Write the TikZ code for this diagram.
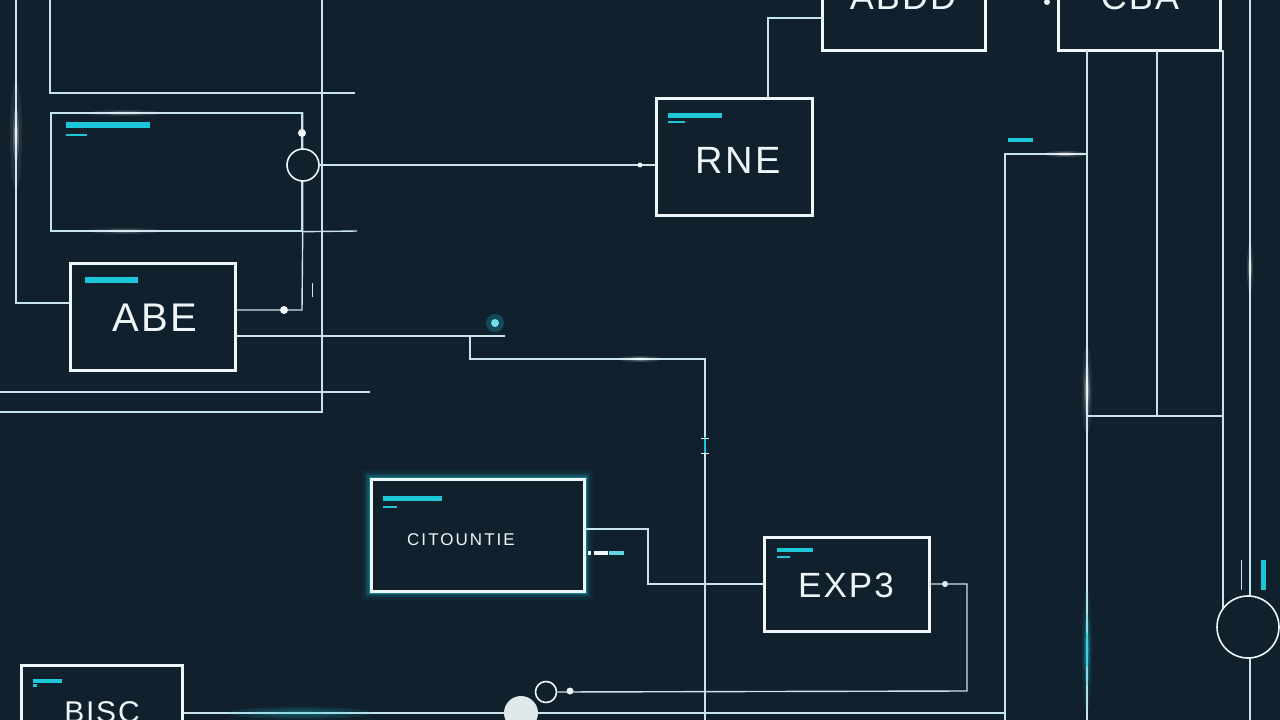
\documentclass[tikz,border=0pt]{standalone}
\usepackage{fontspec}
\setmainfont{Liberation Sans}
\newfontfamily\wide[LetterSpace=6]{Liberation Sans}
\newfontfamily\wider[LetterSpace=12]{Liberation Sans}
\definecolor{bg}{HTML}{11202D}
\definecolor{ln}{HTML}{C8E4EC}
\definecolor{bx}{HTML}{EEF6F8}
\definecolor{cy}{HTML}{1CC8D8}
\begin{document}
\begin{tikzpicture}[x=1pt,y=-1pt,
  wire/.style={draw=ln,line width=1.4pt},
  panelbox/.style={draw=bx,line width=3pt,fill=bg,inner sep=0pt,rectangle},
  lbl/.style={text=bx,inner sep=0pt},
  dotn/.style={circle,fill=bx,inner sep=0pt,minimum size=7pt},
  ring/.style={circle,draw=bx,line width=1.6pt,fill=bg,inner sep=0pt}]
\useasboundingbox (0,0) rectangle (1280,720);
\fill[bg] (0,0) rectangle (1280,720);
\begin{scope}
\clip (0,0) rectangle (1280,720);
% ---- nodes ----
\node[draw=ln,line width=1.4pt,minimum width=251pt,minimum height=118pt,inner sep=0pt] (panel) at (176.5,172) {};
\node[panelbox,minimum width=165pt,minimum height=107pt] (abe) at (152.5,316.5) {};
\node[panelbox,minimum width=156pt,minimum height=117pt] (rne) at (734,156.5) {};
\node[panelbox,minimum width=163pt,minimum height=120pt] (abdd) at (903.5,-10) {};
\node[panelbox,minimum width=162pt,minimum height=120pt] (cba) at (1139,-10) {};
\node[panelbox,minimum width=165pt,minimum height=94pt] (exp) at (846.5,584) {};
\node[panelbox,minimum width=161pt,minimum height=125pt] (disc) at (101.5,727.5) {};
% glowing box
\foreach \w/\o in {18/0.06,12/0.1,8/0.18,5/0.35}
  \draw[cy,line width=\w pt,opacity=\o] (371,479) rectangle (584,591);
\node[panelbox,minimum width=213pt,minimum height=112pt] (cit) at (477.5,535) {};
% ---- top-left frame lines ----
\draw[wire] (50,-5) -- (50,93) -- (355,93);
\draw[wire] (322,-5) -- (322,412) -- (-5,412);
\draw[wire] (-5,392) -- (370,392);
\draw[wire] (16,-5) -- (16,303) -- ([yshift=13.5pt]abe.west);
\draw[wire] (panel.south east) -- (357,231);
\draw[wire] (panel.north east) -- (panel.south east) -- (302,310) -- ([yshift=6.5pt]abe.east);
\node[dotn,minimum size=8pt] (d1) at (302,133) {};
\node[dotn,minimum size=8pt] (d2) at (284,310) {};
\node[ring,minimum size=32pt] (c1) at (303,165) {};
\draw[wire] (c1.east) -- (c1.east -| rne.west);
\node[dotn,minimum size=5pt] (d3) at (640,165) {};
\draw[ln,line width=1pt] (312,283) -- (312,297);
% ABE connectors
\draw[wire] ([yshift=-19.5pt]abe.east) -- (505,336);
\draw[wire] (470,336) -- (470,359) -- (705,359) -- (705,725);
\fill[cy,opacity=0.25] (495,323) circle (9);
\fill[cy!60!white] (495,323) circle (4);
\draw[cy,line width=2.5pt] (705,437) -- (705,454);
\draw[bx,line width=1pt] (701,438) -- (709,438) (701,453) -- (709,453);
% RNE to ABDD
\draw[wire] ([xshift=34pt]rne.north) |- ([yshift=-28pt]abdd.west);
\node[dotn,minimum size=6pt] (d4) at (1047,2) {};
% right side lines
\draw[wire] (1087,50) -- (1087,725);
\draw[wire] (1157,50) -- (1157,416);
\draw[wire] (1087,416) -- (1223,416);
\draw[wire] (1223,50) -- (1223,612);
\draw[wire] (1250,-5) -- (1250,725);
\draw[wire] (1005,725) -- (1005,154) -- (1087,154);
\fill[cy] (1008,138) rectangle (1033,142);
\draw[ln,line width=1pt] (1241,560) -- (1241,590);
\fill[cy] (1261,560) rectangle (1266,590);
\node[ring,minimum size=62pt] (c2) at (1248,627) {};
% CIT to EXP
\draw[wire] ([yshift=6pt]cit.east) -| (648,584) -- (exp.west);
\fill[bx] (588,551) rectangle (591,555);
\fill[bx] (594,551) rectangle (608,555);
\fill[cy!70!white] (609,551) rectangle (624,555);
% EXP loop to bottom ring
\node[dotn,minimum size=6pt] (d5) at (945,584) {};
\node[ring,minimum size=21pt] (c3) at (546,692) {};
\draw[wire] (exp.east) -- (967,584) -- (967,691) -- (c3.east);
\node[dotn,minimum size=7pt] (d6) at (570,691) {};
% bottom line
\draw[wire] ([yshift=14.5pt]disc.east) -- (1005,713);
\node[circle,fill=bx!88!gray,inner sep=0pt,minimum size=34pt] (bd) at (521,713) {};
% ---- glows ----
\foreach \r/\o in {1.5/0.5,3/0.2,6/0.08} \fill[white,opacity=\o] (16,135) ellipse (\r pt and 9*\r pt);
\foreach \r/\o in {1.5/0.5,3/0.2,5/0.08} \fill[white,opacity=\o] (1087,390) ellipse (\r pt and 9*\r pt);
\foreach \r/\o in {1.5/0.6,3/0.25,5/0.1} \fill[cy,opacity=\o] (1087,650) ellipse (\r pt and 12*\r pt);
\foreach \r in {2,4,6} \fill[cy,opacity=0.12] (300,713) ellipse (12*\r pt and \r pt);
\foreach \r/\o in {1.5/0.5,3/0.15} \fill[white,opacity=\o] (640,359) ellipse (7*\r pt and \r pt);
\foreach \r/\o in {1.5/0.5,3/0.15} \fill[white,opacity=\o] (1065,154) ellipse (7*\r pt and \r pt);
\foreach \r/\o in {1.5/0.3,3/0.1} \fill[white,opacity=\o] (125,113) ellipse (12*\r pt and \r pt);
\foreach \r/\o in {1.5/0.3,3/0.1} \fill[white,opacity=\o] (125,231) ellipse (12*\r pt and \r pt);
\foreach \r/\o in {1.5/0.4,3/0.12} \fill[white,opacity=\o] (1250,268) ellipse (\r pt and 8*\r pt);
% ---- cyan bars ----
\fill[cy] (66,122) rectangle (150,128);
\fill[cy] (66,134) rectangle (87,136);
\fill[cy] (85,277) rectangle (138,283);
\fill[cy] (668,113) rectangle (722,118);
\fill[cy] (668,121) rectangle (685,123);
\fill[cy] (383,496) rectangle (442,501);
\fill[cy] (383,506) rectangle (397,508);
\fill[cy] (777,548) rectangle (813,552);
\fill[cy] (777,556) rectangle (790,558);
\fill[cy] (33,679) rectangle (62,683);
\fill[cy] (33,684) rectangle (37,687);
% ---- labels ----
\node[lbl,font=\wide\fontsize{40}{40}\selectfont] (tabe) at (155,318) {ABE};
\node[lbl,font=\wide\fontsize{38}{38}\selectfont] (trne) at (738,160) {RNE};
\node[lbl,font=\wide\fontsize{36}{36}\selectfont] (tabdd) at (903,-3) {ABDD};
\node[lbl,font=\wide\fontsize{36}{36}\selectfont] (tcba) at (1140,-3) {CBA};
\node[lbl,font=\wide\fontsize{35}{35}\selectfont] (texp) at (846,585) {EXP3};
\node[lbl,font=\wider\fontsize{17}{17}\selectfont] (tcit) at (461,540) {CITOUNTIE};
\node[lbl,font=\wide\fontsize{30}{30}\selectfont] (tdisc) at (102,712) {BISC};
\end{scope}
\end{tikzpicture}
\end{document}
